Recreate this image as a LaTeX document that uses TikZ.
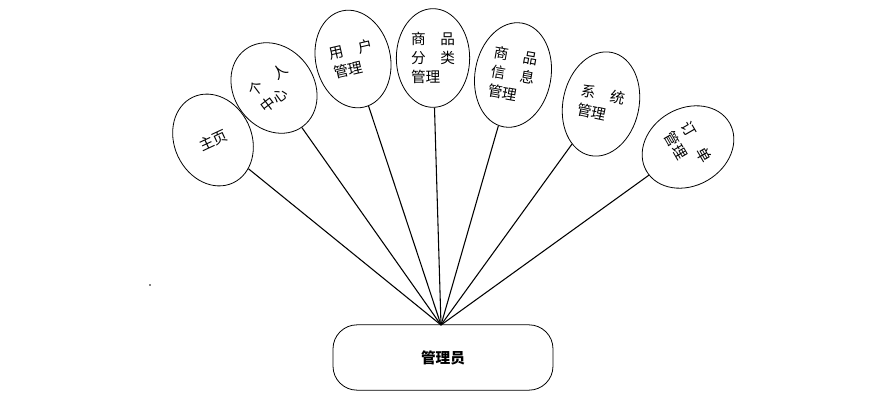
\documentclass[tikz,border=0pt]{standalone}
\usepackage{fontspec}
\setmainfont{Noto Sans CJK SC}
\usetikzlibrary{shapes.geometric}
\begin{document}
\begin{tikzpicture}[x=0.75pt,y=-0.75pt,
  bub/.style={draw,ellipse,line width=0.6pt,inner sep=0pt,font=\fontsize{11}{14.5}\selectfont,align=left},
  conn/.style={line width=0.8pt}]
\useasboundingbox (0,0) rectangle (889,406);
\coordinate (hub) at (441,325);
\node[bub,minimum width=58pt,minimum height=71pt,rotate=25] (e1) at (213,140) {主页};
\node[bub,minimum width=60pt,minimum height=72pt,rotate=37] (e2) at (274,88) {个\quad 人\\中心};
\node[bub,minimum width=56pt,minimum height=74pt,rotate=13] (e3) at (353,59) {用\quad 户\\管理};
\node[bub,minimum width=55pt,minimum height=74pt] (e4) at (433,58) {商\quad 品\\分\quad 类\\管理};
\node[bub,minimum width=57pt,minimum height=79pt,rotate=-10] (e5) at (513,75) {商\quad 品\\信\quad 息\\管理};
\node[bub,minimum width=57pt,minimum height=79pt,rotate=-12] (e6) at (601,104) {系\quad 统\\管理};
\node[bub,minimum width=58pt,minimum height=72pt,rotate=-60] (e7) at (688,147) {订\quad 单\\管理};
\node[draw,rounded corners=18pt,minimum width=165pt,minimum height=49pt,line width=0.6pt,font=\fontsize{11}{13}\selectfont\bfseries] (admin) at (443,357.5) {管理员};
\foreach \e in {e1,e2,e3,e4,e5,e6,e7} \draw[conn] (\e) -- (hub);
\fill (150,285) circle (0.6pt);
\end{tikzpicture}
\end{document}
